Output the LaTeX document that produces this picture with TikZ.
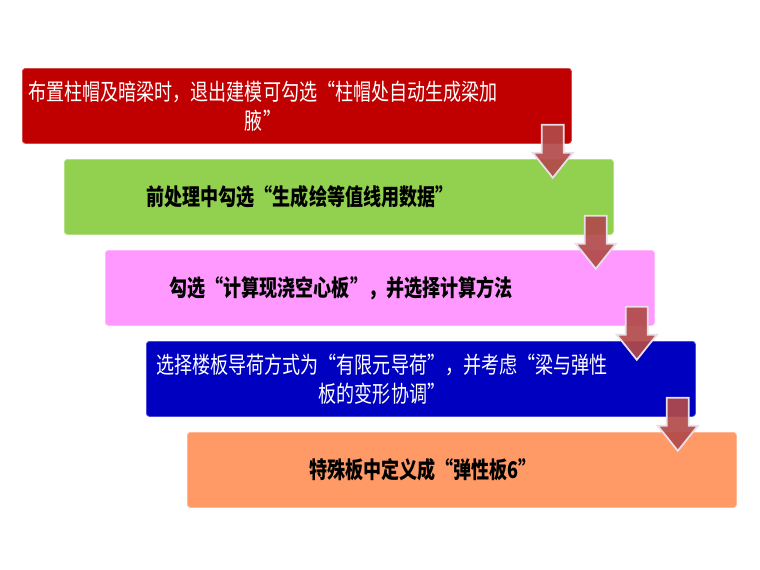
\documentclass[tikz,border=0pt]{standalone}
\usepackage{fontspec}
\newfontfamily\cjk[FakeStretch=0.785]{Noto Sans CJK SC}
\usetikzlibrary{calc}
\definecolor{cRed}{HTML}{C00000}
\definecolor{cGreen}{HTML}{92D050}
\definecolor{cPink}{HTML}{FF99FF}
\definecolor{cBlue}{HTML}{0000C0}
\definecolor{cOrange}{HTML}{FF9966}
\definecolor{arrowfill}{RGB}{178,74,74}
\definecolor{arrowedge}{RGB}{232,222,232}
\tikzset{
  x=1pt, y=-1pt,
  stepbox/.style={draw=#1!70!white, line width=0.8pt, fill=#1, rounded corners=3pt,
    minimum width=549pt, minimum height=75pt, inner sep=0pt, anchor=north west},
  steptext/.style={font=\cjk\fontsize{23}{29}\selectfont, align=center, inner sep=0pt, text=#1},
  blockarrow/.pic={
    \draw[fill=arrowfill, fill opacity=0.92, draw=arrowedge, line width=1.8pt, line join=miter]
      (-11,0) -- (11,0) -- (11,28) -- (20,28) -- (0,53) -- (-20,28) -- (-11,28) -- cycle;
  }
}
\begin{document}
\begin{tikzpicture}
\useasboundingbox (0,0) rectangle (760,570);
\fill[white] (0,0) rectangle (760,570);
% boxes
\node[stepbox=cRed]    (b1) at (22,68)  {};
\node[stepbox=cGreen]  (b2) at (64,159) {};
\node[stepbox=cPink]   (b3) at (105,250) {};
\node[stepbox=cBlue]   (b4) at (146,341) {};
\node[stepbox=cOrange] (b5) at (187,432) {};
% texts
\node[steptext=white] (t1) at ($(b1.west)+(241,0)$) {布置柱帽及暗梁时，退出建模可勾选“柱帽处自动生成梁加\\腋”};
\node[steptext=black] (t2) at ($(b2.west)+(236,0)$) {\bfseries 前处理中勾选“生成绘等值线用数据”};
\node[steptext=black] (t3) at ($(b3.west)+(236,0)$) {\bfseries 勾选“计算现浇空心板”，并选择计算方法};
\node[steptext=white] (t4) at ($(b4.west)+(236,0)$) {选择楼板导荷方式为“有限元导荷”，并考虑“梁与弹性\\板的变形协调”};
\node[steptext=black] (t5) at ($(b5.west)+(236,0)$) {\bfseries 特殊板中定义成“弹性板6”};
% arrows
\pic at ($(b1.south east)+(-19,-19)$) {blockarrow};
\pic at ($(b2.south east)+(-18,-19)$) {blockarrow};
\pic at ($(b3.south east)+(-18,-19)$) {blockarrow};
\pic at ($(b4.south east)+(-18,-19)$) {blockarrow};
\end{tikzpicture}
\end{document}
